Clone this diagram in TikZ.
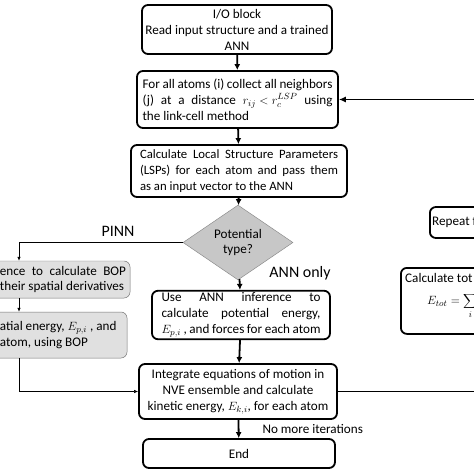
\documentclass[tikz,border=0pt]{standalone}
\usepackage{fontspec}
\setmainfont{Carlito}
\usetikzlibrary{shapes.geometric,arrows.meta}
\hyphenpenalty=10000

\begin{document}
\begin{tikzpicture}[x=1bp, y=-1bp,
        every node/.style={font=\fontsize{13.2}{16}\selectfont},
        process box/.style={draw, line width=1.8pt, rounded corners=6pt, inner sep=2bp},
        pinn box/.style={draw=black!55, fill=black!12, line width=.5pt, rounded corners=6pt},
        decision/.style={diamond, draw=black!45, fill=black!22, line width=.5pt, inner sep=0pt,
          minimum width=110bp, minimum height=51bp, align=center},
        flow/.style={line width=1.8pt, -{Latex[length=6pt,width=6pt]}},
        thin flow/.style={line width=.6pt, -{Latex[length=4pt,width=3.5pt]}},
        loop line/.style={line width=1.3pt},
        branch label/.style={font=\fontsize{16}{18}\selectfont}
        ]
        \useasboundingbox (0,0) rectangle (474,474);
        \clip (0,0) rectangle (474,474);

        \node [process box, name=io, minimum width=190bp, minimum height=49bp, align=center] at (237,29.5)
          {I/O block\\Read input structure and a trained\\ANN};
        \node [process box, name=lsp, minimum width=201bp, minimum height=57bp, text width=190bp, align=justify] at (237.5,99.5)
          {For all atoms (i) collect all neighbors\linebreak (j) at a distance ${r_{ij} < r_c^{LSP}}$ using\linebreak the link-cell method};
        \node [process box, name=param, minimum width=216bp, minimum height=52bp, text width=198bp, align=justify,
          font=\fontsize{12.8}{16}\selectfont] at (239,171)
          {Calculate Local Structure Parameters\linebreak (LSPs) for each atom and pass them\linebreak as an input vector to the ANN};
        \node [decision, name=pot] at (238,242.5) {Potential\\type?};
        \node [process box, name=ann, minimum width=178bp, minimum height=44bp, text width=159bp, align=justify] at (241,315)
          {Use ANN inference to\linebreak calculate potential energy,\linebreak $E_{p,i}$ , and forces for each atom};
        \node [process box, name=integ, minimum width=198bp, minimum height=55bp, align=center] at (238,391.5)
          {Integrate equations of motion in\\NVE ensemble and calculate\\kinetic energy, $E_{k,i}$, for each atom};
        \node [process box, name=end, minimum width=192bp, minimum height=29bp] at (239,453.5) {End};

        % PINN branch, cut by the left border
        \node [pinn box, name=bop, minimum width=140bp, minimum height=37bp] at (60,279.5) {};
        \node [name=boptext, anchor=west, inner sep=0pt, text width=126bp, align=justify] at ([xshift=10bp]bop.west)
          {ence to calculate BOP\linebreak their spatial derivatives};
        \node [pinn box, name=bopenergy, minimum width=137bp, minimum height=46bp] at (58.5,335) {};
        \node [name=bopenergytext, anchor=west, inner sep=0pt, align=left] at ([xshift=10bp]bopenergy.west)
          {atial energy, $E_{p,i}$ , and\\atom, using BOP};

        % boxes cut by the right border
        \node [process box, name=repeat, anchor=west, minimum width=90bp, minimum height=31bp] at (429,222.5) {};
        \node [name=repeattext, anchor=west, inner sep=0pt] at ([xshift=3bp]repeat.west) {Repeat f};
        \node [process box, name=etot, anchor=north west, minimum width=110bp, minimum height=66bp] at (400,267) {};
        \node [name=etottext, anchor=west, inner sep=0pt] at (405,277.5) {Calculate tot};
        \node [name=etotsum, anchor=west, inner sep=0pt] at (427,306) {$E_{tot} = \displaystyle\sum_{i}$};

        \coordinate (pinnlane) at (19,0);
        \coordinate (loopback) at (474,99.5);
        \coordinate (loopout) at (474,391.5);

        \draw [flow] (io) -- (lsp);
        \draw [flow] (lsp) -- (param);
        \draw [flow] (param) -- (pot);
        \draw [flow] (pot) -- (ann);
        \draw [flow] (ann) -- (integ);
        \draw [flow] (integ) -- (end);
        \draw [loop line, -{Latex[length=7pt,width=6pt]}] (loopback) -- (lsp);
        \draw [loop line] (integ) -- (loopout);
        \draw [thin flow] (pot.west) -| (bop.north -| pinnlane);
        \draw [thin flow] (bop.south -| pinnlane) -- (bopenergy.north -| pinnlane);
        \draw [thin flow] (bopenergy.south -| pinnlane) |- (integ.west);

        \node [branch label, name=pinnlabel] at (118,231) {PINN};
        \node [branch label, name=annlabel] at (300,273) {ANN only};
        \node [name=stoplabel, anchor=west] at (259,429) {No more iterations};
\end{tikzpicture}
\end{document}
